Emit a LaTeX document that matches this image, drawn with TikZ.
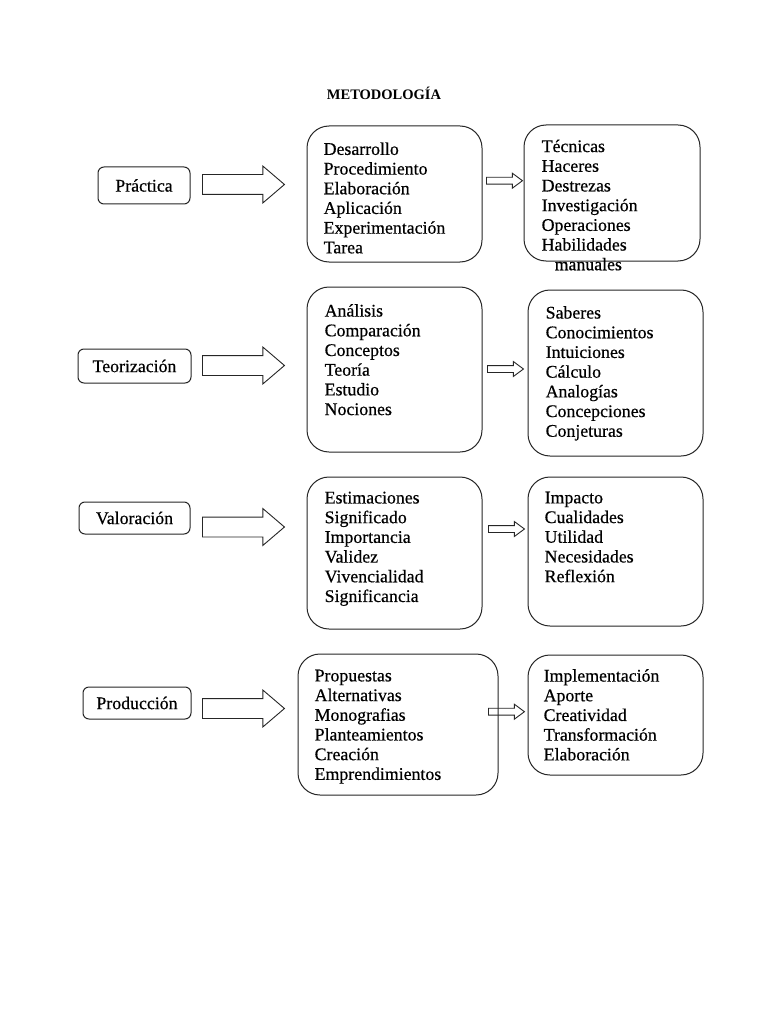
\documentclass[tikz,border=0pt]{standalone}
\usepackage{fontspec}
\setmainfont{Liberation Serif}
\newfontfamily\listfont[FakeBold=0.5]{Liberation Serif}
\usepackage{tikz}
\usetikzlibrary{shapes.arrows, positioning}
\tikzstyle{stage} = [rectangle, rounded corners=6pt, draw=black!85, line width=1pt, text centered, inner sep=0pt, font=\listfont\fontsize{17.8}{19.7}\selectfont]
\tikzstyle{panel} = [rectangle, rounded corners=22pt, draw=black!85, line width=1pt, inner sep=0pt]
\tikzstyle{words} = [align=left, inner sep=0pt, anchor=north west, font=\listfont\fontsize{17.8}{19.7}\selectfont, execute at begin node=\strut]
\tikzstyle{bigarrow} = [single arrow, draw=black!85, line width=0.9pt, anchor=tail, minimum height=82pt, minimum width=0pt, inner xsep=0pt, inner ysep=9.5pt, single arrow head extend=8.5pt, single arrow tip angle=81]
\tikzstyle{smallarrow} = [single arrow, draw=black!85, line width=0.9pt, anchor=tail, minimum height=36pt, minimum width=0pt, inner xsep=0pt, inner ysep=3pt, single arrow head extend=4pt, single arrow tip angle=73]

\begin{document}
\begin{tikzpicture}[x=1pt, y=-1pt]
\useasboundingbox[fill=white] (0,0) rectangle (768,1024);

% Title
\node[anchor=base, font=\bfseries\fontsize{14.5}{17}\selectfont] (title) at (384,99.5) {METODOLOGÍA};

% Row 1: Practica
\node[stage, minimum width=92pt, minimum height=37pt] (prac_lbl) at (144,185.5) {Práctica};
\node[bigarrow] (prac_arr) at (202,184.5) {};
\node[panel, minimum width=175pt, minimum height=136pt] (prac_mid) at (394.5,194) {};
\node[words, below right=16.8pt and 17pt of prac_mid.north west] (prac_mid_txt) {
    Desarrollo\\ Procedimiento\\ Elaboración\\ Aplicación\\ Experimentación\\ Tarea
};
\node[smallarrow] (prac_link) at (486,180.7) {};
\node[panel, minimum width=176pt, minimum height=136pt] (prac_out) at (612,193) {};
\node[words, below right=15pt and 18pt of prac_out.north west] (prac_out_txt) {
    Técnicas\\ Haceres\\ Destrezas\\ Investigación\\ Operaciones\\ Habilidades\\ \hspace*{13pt}manuales
};

% Row 2: Teorizacion
\node[stage, minimum width=113pt, minimum height=34pt] (teo_lbl) at (134.5,366) {Teorización};
\node[bigarrow] (teo_arr) at (202,365.5) {};
\node[panel, minimum width=175pt, minimum height=165pt] (teo_mid) at (394.5,369.5) {};
\node[words, below right=17.5pt and 18pt of teo_mid.north west] (teo_mid_txt) {
    Análisis\\ Comparación\\ Conceptos\\ Teoría\\ Estudio\\ Nociones
};
\node[smallarrow] (teo_link) at (487,369) {};
\node[panel, minimum width=175pt, minimum height=166pt] (teo_out) at (615.5,373) {};
\node[words, below right=16.5pt and 18pt of teo_out.north west] (teo_out_txt) {
    Saberes\\ Conocimientos\\ Intuiciones\\ Cálculo\\ Analogías\\ Concepciones\\ Conjeturas
};

% Row 3: Valoracion
\node[stage, minimum width=111pt, minimum height=32pt] (val_lbl) at (134.5,518) {Valoración};
\node[bigarrow] (val_arr) at (202,527) {};
\node[panel, minimum width=175pt, minimum height=152pt] (val_mid) at (394.5,553) {};
\node[words, below right=15pt and 18pt of val_mid.north west] (val_mid_txt) {
    Estimaciones\\ Significado\\ Importancia\\ Validez\\ Vivencialidad\\ Significancia
};
\node[smallarrow] (val_link) at (488,529) {};
\node[panel, minimum width=175pt, minimum height=149pt] (val_out) at (615.5,551.5) {};
\node[words, below right=15pt and 17pt of val_out.north west] (val_out_txt) {
    Impacto\\ Cualidades\\ Utilidad\\ Necesidades\\ Reflexión
};

% Row 4: Produccion
\node[stage, minimum width=108pt, minimum height=32pt] (prod_lbl) at (137,703) {Producción};
\node[bigarrow] (prod_arr) at (202,708.5) {};
\node[panel, minimum width=200pt, minimum height=141pt] (prod_mid) at (398,724.5) {};
\node[words, below right=16pt and 17pt of prod_mid.north west] (prod_mid_txt) {
    Propuestas\\ Alternativas\\ Monografias\\ Planteamientos\\ Creación\\ Emprendimientos
};
\node[smallarrow] (prod_link) at (488,711.7) {};
\node[panel, minimum width=175pt, minimum height=120pt] (prod_out) at (615.5,715) {};
\node[words, below right=14.5pt and 16pt of prod_out.north west] (prod_out_txt) {
    Implementación\\ Aporte\\ Creatividad\\ Transformación\\ Elaboración
};

\end{tikzpicture}
\end{document}
